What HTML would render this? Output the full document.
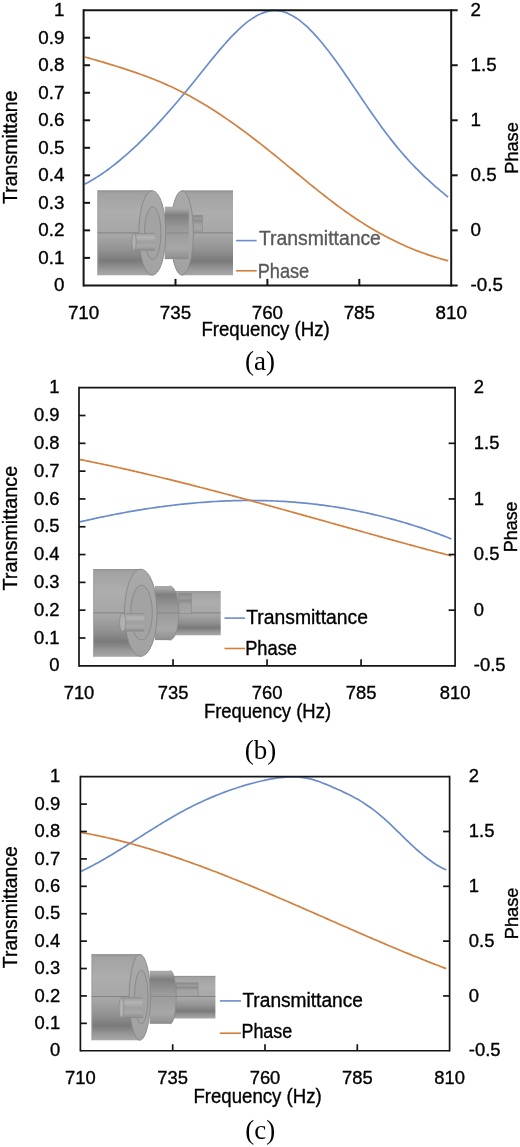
<!DOCTYPE html>
<html><head><meta charset="utf-8"><title>Transmittance and Phase vs Frequency</title>
<style>html,body{margin:0;padding:0;background:#fff;width:520px;height:1147px;overflow:hidden}svg{display:block}</style>
</head><body>
<svg width="520" height="1147" viewBox="0 0 520 1147">
<defs>
<linearGradient id="cyl" x1="0" y1="0" x2="0" y2="1">
 <stop offset="0" stop-color="#979797"/>
 <stop offset="0.04" stop-color="#a3a3a3"/>
 <stop offset="0.26" stop-color="#adadad"/>
 <stop offset="0.49" stop-color="#a7a7a7"/>
 <stop offset="0.53" stop-color="#a6a6a6"/>
 <stop offset="0.70" stop-color="#929292"/>
 <stop offset="0.83" stop-color="#7a7a7a"/>
 <stop offset="0.93" stop-color="#989898"/>
 <stop offset="1" stop-color="#a8a8a8"/>
</linearGradient>
<linearGradient id="neck" x1="0" y1="0" x2="0" y2="1">
 <stop offset="0" stop-color="#a9a9a9"/>
 <stop offset="0.05" stop-color="#a4a4a4"/>
 <stop offset="0.16" stop-color="#7f7f7f"/>
 <stop offset="0.40" stop-color="#999999"/>
 <stop offset="0.8" stop-color="#a7a7a7"/>
 <stop offset="0.95" stop-color="#959595"/>
 <stop offset="1" stop-color="#8a8a8a"/>
</linearGradient>
<linearGradient id="face" x1="0" y1="0" x2="0" y2="1">
 <stop offset="0" stop-color="#a9a9a9"/>
 <stop offset="0.5" stop-color="#a6a6a6"/>
 <stop offset="1" stop-color="#a2a2a2"/>
</linearGradient>
<linearGradient id="pin" x1="0" y1="0" x2="0" y2="1">
 <stop offset="0" stop-color="#9c9c9c"/>
 <stop offset="0.25" stop-color="#b3b3b3"/>
 <stop offset="0.5" stop-color="#a0a0a0"/>
 <stop offset="0.75" stop-color="#a8a8a8"/>
 <stop offset="1" stop-color="#8c8c8c"/>
</linearGradient>
<linearGradient id="pin2" x1="0" y1="0" x2="0" y2="1">
 <stop offset="0" stop-color="#888888"/>
 <stop offset="0.2" stop-color="#9c9c9c"/>
 <stop offset="0.35" stop-color="#8c8c8c"/>
 <stop offset="0.55" stop-color="#a2a2a2"/>
 <stop offset="1" stop-color="#a6a6a6"/>
</linearGradient>
</defs>
<rect x="97.50" y="190.50" width="54.80" height="84.80" fill="url(#cyl)"/>
<line x1="97.90" y1="190.50" x2="97.90" y2="275.30" stroke="#9a9a9a" stroke-width="0.80"/>
<line x1="97.50" y1="190.80" x2="152.30" y2="190.80" stroke="#8c8c8c" stroke-width="0.70"/>
<rect x="182.00" y="190.60" width="51.00" height="84.70" fill="url(#cyl)"/>
<line x1="182.00" y1="190.90" x2="233.00" y2="190.90" stroke="#8c8c8c" stroke-width="0.70"/>
<line x1="182.00" y1="232.90" x2="233.00" y2="232.90" stroke="#828282" stroke-width="1.00"/>
<line x1="97.50" y1="232.90" x2="152.30" y2="232.90" stroke="#828282" stroke-width="1.00"/>
<ellipse cx="182.00" cy="233.00" rx="11.40" ry="42.20" fill="url(#face)" stroke="#878787" stroke-width="0.90"/>
<rect x="193.70" y="215.30" width="8.60" height="15.70" fill="url(#pin2)" stroke="#8a8a8a" stroke-width="0.7"/>
<rect x="164.80" y="206.70" width="24.00" height="52.40" fill="url(#neck)"/>
<line x1="164.80" y1="232.90" x2="188.80" y2="232.90" stroke="#858585" stroke-width="0.80"/>
<ellipse cx="152.30" cy="233.00" rx="13.50" ry="42.30" fill="url(#face)" stroke="#878787" stroke-width="0.90"/>
<ellipse cx="152.70" cy="233.15" rx="8.20" ry="26.35" fill="#a3a3a3" stroke="#878787" stroke-width="0.90"/>
<rect x="134.00" y="233.10" width="20.80" height="17.30" fill="url(#pin)"/>
<line x1="134.00" y1="233.40" x2="154.80" y2="233.40" stroke="#8a8a8a" stroke-width="0.70"/>
<line x1="134.00" y1="250.10" x2="154.80" y2="250.10" stroke="#8a8a8a" stroke-width="0.70"/>
<ellipse cx="134.00" cy="241.75" rx="2.20" ry="8.65" fill="#b0b0b0" stroke="#858585" stroke-width="0.70"/>
<path d="M84.50,184.19 C85.00,183.93 86.50,183.16 87.50,182.63 C88.50,182.09 89.50,181.53 90.50,180.96 C91.50,180.40 92.50,179.81 93.50,179.22 C94.50,178.62 95.50,178.01 96.50,177.38 C97.50,176.75 98.50,176.11 99.50,175.46 C100.50,174.80 101.50,174.13 102.50,173.45 C103.50,172.77 104.50,172.07 105.50,171.37 C106.50,170.66 107.50,169.93 108.50,169.20 C109.50,168.46 110.50,167.72 111.50,166.95 C112.50,166.19 113.50,165.42 114.50,164.63 C115.50,163.85 116.50,163.05 117.50,162.24 C118.50,161.43 119.50,160.60 120.50,159.77 C121.50,158.93 122.50,158.09 123.50,157.23 C124.50,156.37 125.50,155.50 126.50,154.62 C127.50,153.74 128.50,152.85 129.50,151.95 C130.50,151.04 131.50,150.13 132.50,149.21 C133.50,148.28 134.50,147.35 135.50,146.40 C136.50,145.46 137.50,144.50 138.50,143.54 C139.50,142.57 140.50,141.60 141.50,140.61 C142.50,139.63 143.50,138.63 144.50,137.63 C145.50,136.62 146.50,135.61 147.50,134.59 C148.50,133.56 149.50,132.53 150.50,131.49 C151.50,130.45 152.50,129.40 153.50,128.34 C154.50,127.29 155.50,126.22 156.50,125.15 C157.50,124.07 158.50,122.99 159.50,121.90 C160.50,120.81 161.50,119.71 162.50,118.60 C163.50,117.50 164.50,116.38 165.50,115.26 C166.50,114.14 167.50,113.01 168.50,111.88 C169.50,110.74 170.50,109.60 171.50,108.45 C172.50,107.30 173.50,106.15 174.50,104.99 C175.50,103.83 176.50,102.66 177.50,101.48 C178.50,100.31 179.50,99.13 180.50,97.94 C181.50,96.76 182.50,95.56 183.50,94.37 C184.50,93.17 185.50,91.97 186.50,90.76 C187.50,89.55 188.50,88.34 189.50,87.12 C190.50,85.90 191.50,84.68 192.50,83.45 C193.50,82.23 194.50,80.99 195.50,79.76 C196.50,78.52 197.50,77.28 198.50,76.04 C199.50,74.79 200.50,73.54 201.50,72.30 C202.50,71.05 203.50,69.80 204.50,68.55 C205.50,67.30 206.50,66.05 207.50,64.81 C208.50,63.56 209.50,62.32 210.50,61.09 C211.50,59.85 212.50,58.62 213.50,57.40 C214.50,56.18 215.50,54.96 216.50,53.75 C217.50,52.55 218.50,51.35 219.50,50.17 C220.50,48.99 221.50,47.81 222.50,46.65 C223.50,45.50 224.50,44.35 225.50,43.23 C226.50,42.10 227.50,40.99 228.50,39.90 C229.50,38.80 230.50,37.73 231.50,36.67 C232.50,35.62 233.50,34.59 234.50,33.58 C235.50,32.57 236.50,31.58 237.50,30.62 C238.50,29.66 239.50,28.72 240.50,27.81 C241.50,26.90 242.50,26.02 243.50,25.17 C244.50,24.31 245.50,23.49 246.50,22.70 C247.50,21.90 248.50,21.14 249.50,20.42 C250.50,19.69 251.50,19.00 252.50,18.34 C253.50,17.68 254.50,17.06 255.50,16.48 C256.50,15.90 257.50,15.35 258.50,14.84 C259.50,14.34 260.50,13.87 261.50,13.45 C262.50,13.03 263.50,12.65 264.50,12.32 C265.50,11.98 266.50,11.69 267.50,11.45 C268.50,11.21 269.50,11.01 270.50,10.86 C271.50,10.72 272.50,10.62 273.50,10.57 C274.50,10.52 275.50,10.53 276.50,10.58 C277.50,10.64 278.50,10.75 279.50,10.91 C280.50,11.07 281.50,11.29 282.50,11.55 C283.50,11.81 284.50,12.12 285.50,12.48 C286.50,12.84 287.50,13.24 288.50,13.69 C289.50,14.14 290.50,14.64 291.50,15.17 C292.50,15.71 293.50,16.30 294.50,16.92 C295.50,17.54 296.50,18.20 297.50,18.91 C298.50,19.61 299.50,20.35 300.50,21.13 C301.50,21.91 302.50,22.73 303.50,23.58 C304.50,24.43 305.50,25.32 306.50,26.24 C307.50,27.16 308.50,28.12 309.50,29.10 C310.50,30.08 311.50,31.10 312.50,32.15 C313.50,33.19 314.50,34.27 315.50,35.37 C316.50,36.47 317.50,37.60 318.50,38.76 C319.50,39.91 320.50,41.09 321.50,42.30 C322.50,43.50 323.50,44.73 324.50,45.98 C325.50,47.23 326.50,48.50 327.50,49.79 C328.50,51.07 329.50,52.38 330.50,53.71 C331.50,55.04 332.50,56.38 333.50,57.74 C334.50,59.10 335.50,60.47 336.50,61.86 C337.50,63.25 338.50,64.65 339.50,66.07 C340.50,67.48 341.50,68.91 342.50,70.34 C343.50,71.77 344.50,73.22 345.50,74.67 C346.50,76.12 347.50,77.58 348.50,79.05 C349.50,80.51 350.50,81.98 351.50,83.45 C352.50,84.93 353.50,86.41 354.50,87.89 C355.50,89.36 356.50,90.85 357.50,92.33 C358.50,93.81 359.50,95.29 360.50,96.77 C361.50,98.25 362.50,99.73 363.50,101.20 C364.50,102.68 365.50,104.15 366.50,105.61 C367.50,107.08 368.50,108.54 369.50,109.99 C370.50,111.44 371.50,112.89 372.50,114.33 C373.50,115.76 374.50,117.19 375.50,118.60 C376.50,120.02 377.50,121.43 378.50,122.82 C379.50,124.21 380.50,125.59 381.50,126.96 C382.50,128.32 383.50,129.67 384.50,131.01 C385.50,132.34 386.50,133.67 387.50,134.97 C388.50,136.28 389.50,137.58 390.50,138.85 C391.50,140.13 392.50,141.40 393.50,142.65 C394.50,143.89 395.50,145.13 396.50,146.35 C397.50,147.57 398.50,148.77 399.50,149.96 C400.50,151.15 401.50,152.32 402.50,153.48 C403.50,154.64 404.50,155.78 405.50,156.91 C406.50,158.03 407.50,159.14 408.50,160.24 C409.50,161.34 410.50,162.42 411.50,163.48 C412.50,164.55 413.50,165.60 414.50,166.64 C415.50,167.68 416.50,168.70 417.50,169.71 C418.50,170.73 419.50,171.72 420.50,172.71 C421.50,173.69 422.50,174.66 423.50,175.62 C424.50,176.59 425.50,177.53 426.50,178.47 C427.50,179.40 428.50,180.33 429.50,181.24 C430.50,182.16 431.50,183.06 432.50,183.95 C433.50,184.84 434.50,185.72 435.50,186.59 C436.50,187.46 437.50,188.32 438.50,189.18 C439.50,190.03 440.50,190.87 441.50,191.70 C442.50,192.54 443.50,193.36 444.50,194.18 C445.50,194.99 446.90,196.12 447.50,196.60 C448.10,197.08 448.00,197.00 448.10,197.08" fill="none" stroke="#6b8ccb" stroke-width="1.7" stroke-linejoin="round"/>
<path d="M84.90,56.99 C85.40,57.14 86.90,57.56 87.90,57.85 C88.90,58.13 89.90,58.42 90.90,58.71 C91.90,58.99 92.90,59.28 93.90,59.57 C94.90,59.86 95.90,60.14 96.90,60.43 C97.90,60.72 98.90,61.01 99.90,61.30 C100.90,61.60 101.90,61.89 102.90,62.18 C103.90,62.48 104.90,62.77 105.90,63.07 C106.90,63.36 107.90,63.66 108.90,63.96 C109.90,64.26 110.90,64.56 111.90,64.87 C112.90,65.17 113.90,65.48 114.90,65.79 C115.90,66.09 116.90,66.40 117.90,66.72 C118.90,67.03 119.90,67.34 120.90,67.66 C121.90,67.98 122.90,68.30 123.90,68.62 C124.90,68.94 125.90,69.27 126.90,69.60 C127.90,69.92 128.90,70.26 129.90,70.59 C130.90,70.92 131.90,71.26 132.90,71.60 C133.90,71.94 134.90,72.29 135.90,72.64 C136.90,72.98 137.90,73.34 138.90,73.69 C139.90,74.05 140.90,74.41 141.90,74.77 C142.90,75.13 143.90,75.50 144.90,75.87 C145.90,76.24 146.90,76.62 147.90,77.00 C148.90,77.38 149.90,77.76 150.90,78.15 C151.90,78.54 152.90,78.94 153.90,79.33 C154.90,79.73 155.90,80.14 156.90,80.54 C157.90,80.95 158.90,81.37 159.90,81.78 C160.90,82.20 161.90,82.63 162.90,83.06 C163.90,83.49 164.90,83.92 165.90,84.36 C166.90,84.80 167.90,85.25 168.90,85.70 C169.90,86.15 170.90,86.61 171.90,87.07 C172.90,87.54 173.90,88.00 174.90,88.48 C175.90,88.96 176.90,89.44 177.90,89.93 C178.90,90.42 179.90,90.91 180.90,91.41 C181.90,91.92 182.90,92.42 183.90,92.94 C184.90,93.45 185.90,93.98 186.90,94.51 C187.90,95.04 188.90,95.57 189.90,96.11 C190.90,96.66 191.90,97.21 192.90,97.76 C193.90,98.32 194.90,98.88 195.90,99.45 C196.90,100.02 197.90,100.60 198.90,101.18 C199.90,101.76 200.90,102.35 201.90,102.95 C202.90,103.54 203.90,104.14 204.90,104.75 C205.90,105.36 206.90,105.97 207.90,106.59 C208.90,107.21 209.90,107.83 210.90,108.46 C211.90,109.09 212.90,109.73 213.90,110.37 C214.90,111.02 215.90,111.66 216.90,112.32 C217.90,112.97 218.90,113.63 219.90,114.29 C220.90,114.96 221.90,115.63 222.90,116.30 C223.90,116.98 224.90,117.66 225.90,118.34 C226.90,119.03 227.90,119.72 228.90,120.41 C229.90,121.11 230.90,121.81 231.90,122.51 C232.90,123.22 233.90,123.93 234.90,124.64 C235.90,125.35 236.90,126.07 237.90,126.80 C238.90,127.52 239.90,128.25 240.90,128.98 C241.90,129.71 242.90,130.45 243.90,131.19 C244.90,131.93 245.90,132.68 246.90,133.42 C247.90,134.17 248.90,134.93 249.90,135.68 C250.90,136.44 251.90,137.20 252.90,137.97 C253.90,138.73 254.90,139.50 255.90,140.27 C256.90,141.04 257.90,141.82 258.90,142.60 C259.90,143.38 260.90,144.16 261.90,144.95 C262.90,145.73 263.90,146.52 264.90,147.31 C265.90,148.11 266.90,148.90 267.90,149.70 C268.90,150.50 269.90,151.30 270.90,152.11 C271.90,152.91 272.90,153.72 273.90,154.53 C274.90,155.34 275.90,156.15 276.90,156.96 C277.90,157.78 278.90,158.59 279.90,159.41 C280.90,160.23 281.90,161.05 282.90,161.87 C283.90,162.69 284.90,163.51 285.90,164.33 C286.90,165.15 287.90,165.98 288.90,166.80 C289.90,167.62 290.90,168.45 291.90,169.27 C292.90,170.10 293.90,170.92 294.90,171.75 C295.90,172.57 296.90,173.39 297.90,174.22 C298.90,175.04 299.90,175.86 300.90,176.68 C301.90,177.51 302.90,178.33 303.90,179.15 C304.90,179.97 305.90,180.78 306.90,181.60 C307.90,182.42 308.90,183.23 309.90,184.04 C310.90,184.85 311.90,185.67 312.90,186.47 C313.90,187.28 314.90,188.09 315.90,188.89 C316.90,189.69 317.90,190.49 318.90,191.29 C319.90,192.09 320.90,192.88 321.90,193.67 C322.90,194.46 323.90,195.25 324.90,196.03 C325.90,196.81 326.90,197.59 327.90,198.36 C328.90,199.14 329.90,199.91 330.90,200.67 C331.90,201.44 332.90,202.20 333.90,202.96 C334.90,203.71 335.90,204.46 336.90,205.21 C337.90,205.95 338.90,206.69 339.90,207.43 C340.90,208.16 341.90,208.89 342.90,209.62 C343.90,210.34 344.90,211.05 345.90,211.76 C346.90,212.47 347.90,213.18 348.90,213.87 C349.90,214.57 350.90,215.26 351.90,215.94 C352.90,216.63 353.90,217.30 354.90,217.97 C355.90,218.64 356.90,219.30 357.90,219.96 C358.90,220.61 359.90,221.26 360.90,221.90 C361.90,222.55 362.90,223.18 363.90,223.81 C364.90,224.44 365.90,225.06 366.90,225.67 C367.90,226.28 368.90,226.89 369.90,227.49 C370.90,228.09 371.90,228.68 372.90,229.27 C373.90,229.86 374.90,230.44 375.90,231.01 C376.90,231.58 377.90,232.15 378.90,232.71 C379.90,233.27 380.90,233.82 381.90,234.36 C382.90,234.91 383.90,235.45 384.90,235.98 C385.90,236.51 386.90,237.04 387.90,237.56 C388.90,238.08 389.90,238.59 390.90,239.09 C391.90,239.60 392.90,240.09 393.90,240.59 C394.90,241.08 395.90,241.56 396.90,242.04 C397.90,242.52 398.90,242.99 399.90,243.45 C400.90,243.92 401.90,244.38 402.90,244.83 C403.90,245.28 404.90,245.72 405.90,246.16 C406.90,246.60 407.90,247.03 408.90,247.45 C409.90,247.88 410.90,248.30 411.90,248.71 C412.90,249.12 413.90,249.52 414.90,249.92 C415.90,250.32 416.90,250.71 417.90,251.09 C418.90,251.48 419.90,251.86 420.90,252.23 C421.90,252.60 422.90,252.96 423.90,253.32 C424.90,253.68 425.90,254.03 426.90,254.38 C427.90,254.72 428.90,255.06 429.90,255.39 C430.90,255.72 431.90,256.05 432.90,256.37 C433.90,256.69 434.90,257.00 435.90,257.30 C436.90,257.61 437.90,257.91 438.90,258.20 C439.90,258.49 440.90,258.78 441.90,259.06 C442.90,259.34 443.90,259.61 444.90,259.88 C445.90,260.15 447.38,260.53 447.90,260.66 C448.42,260.79 447.98,260.68 448.00,260.69" fill="none" stroke="#d2803f" stroke-width="1.7" stroke-linejoin="round"/>
<line x1="83.60" y1="10.20" x2="457.70" y2="10.20" stroke="#141414" stroke-width="2.00"/>
<line x1="83.60" y1="285.40" x2="457.70" y2="285.40" stroke="#141414" stroke-width="2.00"/>
<line x1="83.60" y1="9.20" x2="83.60" y2="286.40" stroke="#141414" stroke-width="2.00"/>
<line x1="451.20" y1="9.20" x2="451.20" y2="286.40" stroke="#141414" stroke-width="2.00"/>
<line x1="83.60" y1="257.88" x2="90.10" y2="257.88" stroke="#141414" stroke-width="2.00"/>
<line x1="83.60" y1="230.36" x2="90.10" y2="230.36" stroke="#141414" stroke-width="2.00"/>
<line x1="83.60" y1="202.84" x2="90.10" y2="202.84" stroke="#141414" stroke-width="2.00"/>
<line x1="83.60" y1="175.32" x2="90.10" y2="175.32" stroke="#141414" stroke-width="2.00"/>
<line x1="83.60" y1="147.80" x2="90.10" y2="147.80" stroke="#141414" stroke-width="2.00"/>
<line x1="83.60" y1="120.28" x2="90.10" y2="120.28" stroke="#141414" stroke-width="2.00"/>
<line x1="83.60" y1="92.76" x2="90.10" y2="92.76" stroke="#141414" stroke-width="2.00"/>
<line x1="83.60" y1="65.24" x2="90.10" y2="65.24" stroke="#141414" stroke-width="2.00"/>
<line x1="83.60" y1="37.72" x2="90.10" y2="37.72" stroke="#141414" stroke-width="2.00"/>
<line x1="451.20" y1="230.36" x2="457.70" y2="230.36" stroke="#141414" stroke-width="2.00"/>
<line x1="451.20" y1="175.32" x2="457.70" y2="175.32" stroke="#141414" stroke-width="2.00"/>
<line x1="451.20" y1="120.28" x2="457.70" y2="120.28" stroke="#141414" stroke-width="2.00"/>
<line x1="451.20" y1="65.24" x2="457.70" y2="65.24" stroke="#141414" stroke-width="2.00"/>
<line x1="175.50" y1="278.90" x2="175.50" y2="285.40" stroke="#141414" stroke-width="2.00"/>
<line x1="267.40" y1="278.90" x2="267.40" y2="285.40" stroke="#141414" stroke-width="2.00"/>
<line x1="359.30" y1="278.90" x2="359.30" y2="285.40" stroke="#141414" stroke-width="2.00"/>
<text x="64.40" y="291.30" font-size="18.80" text-anchor="end" fill="#000" font-family="'Liberation Sans', Arial, sans-serif" stroke="#000" stroke-width="0.35">0</text>
<text x="64.40" y="263.78" font-size="18.80" text-anchor="end" fill="#000" font-family="'Liberation Sans', Arial, sans-serif" stroke="#000" stroke-width="0.35">0.1</text>
<text x="64.40" y="236.26" font-size="18.80" text-anchor="end" fill="#000" font-family="'Liberation Sans', Arial, sans-serif" stroke="#000" stroke-width="0.35">0.2</text>
<text x="64.40" y="208.74" font-size="18.80" text-anchor="end" fill="#000" font-family="'Liberation Sans', Arial, sans-serif" stroke="#000" stroke-width="0.35">0.3</text>
<text x="64.40" y="181.22" font-size="18.80" text-anchor="end" fill="#000" font-family="'Liberation Sans', Arial, sans-serif" stroke="#000" stroke-width="0.35">0.4</text>
<text x="64.40" y="153.70" font-size="18.80" text-anchor="end" fill="#000" font-family="'Liberation Sans', Arial, sans-serif" stroke="#000" stroke-width="0.35">0.5</text>
<text x="64.40" y="126.18" font-size="18.80" text-anchor="end" fill="#000" font-family="'Liberation Sans', Arial, sans-serif" stroke="#000" stroke-width="0.35">0.6</text>
<text x="64.40" y="98.66" font-size="18.80" text-anchor="end" fill="#000" font-family="'Liberation Sans', Arial, sans-serif" stroke="#000" stroke-width="0.35">0.7</text>
<text x="64.40" y="71.14" font-size="18.80" text-anchor="end" fill="#000" font-family="'Liberation Sans', Arial, sans-serif" stroke="#000" stroke-width="0.35">0.8</text>
<text x="64.40" y="43.62" font-size="18.80" text-anchor="end" fill="#000" font-family="'Liberation Sans', Arial, sans-serif" stroke="#000" stroke-width="0.35">0.9</text>
<text x="64.40" y="16.10" font-size="18.80" text-anchor="end" fill="#000" font-family="'Liberation Sans', Arial, sans-serif" stroke="#000" stroke-width="0.35">1</text>
<text x="470.50" y="291.30" font-size="18.80" fill="#000" font-family="'Liberation Sans', Arial, sans-serif" stroke="#000" stroke-width="0.35">-0.5</text>
<text x="470.50" y="236.26" font-size="18.80" fill="#000" font-family="'Liberation Sans', Arial, sans-serif" stroke="#000" stroke-width="0.35">0</text>
<text x="470.50" y="181.22" font-size="18.80" fill="#000" font-family="'Liberation Sans', Arial, sans-serif" stroke="#000" stroke-width="0.35">0.5</text>
<text x="470.50" y="126.18" font-size="18.80" fill="#000" font-family="'Liberation Sans', Arial, sans-serif" stroke="#000" stroke-width="0.35">1</text>
<text x="470.50" y="71.14" font-size="18.80" fill="#000" font-family="'Liberation Sans', Arial, sans-serif" stroke="#000" stroke-width="0.35">1.5</text>
<text x="470.50" y="16.10" font-size="18.80" fill="#000" font-family="'Liberation Sans', Arial, sans-serif" stroke="#000" stroke-width="0.35">2</text>
<text x="83.60" y="318.60" font-size="18.80" text-anchor="middle" fill="#000" font-family="'Liberation Sans', Arial, sans-serif" stroke="#000" stroke-width="0.35">710</text>
<text x="175.50" y="318.60" font-size="18.80" text-anchor="middle" fill="#000" font-family="'Liberation Sans', Arial, sans-serif" stroke="#000" stroke-width="0.35">735</text>
<text x="267.40" y="318.60" font-size="18.80" text-anchor="middle" fill="#000" font-family="'Liberation Sans', Arial, sans-serif" stroke="#000" stroke-width="0.35">760</text>
<text x="359.30" y="318.60" font-size="18.80" text-anchor="middle" fill="#000" font-family="'Liberation Sans', Arial, sans-serif" stroke="#000" stroke-width="0.35">785</text>
<text x="451.20" y="318.60" font-size="18.80" text-anchor="middle" fill="#000" font-family="'Liberation Sans', Arial, sans-serif" stroke="#000" stroke-width="0.35">810</text>
<text x="201.48" y="336.30" font-size="19.30" textLength="128.2" lengthAdjust="spacingAndGlyphs" fill="#000" font-family="'Liberation Sans', Arial, sans-serif" id="t_a_freq" stroke="#000" stroke-width="0.35">Frequency (Hz)</text>
<text id="t_a_tr" stroke="#000" stroke-width="0.35" transform="translate(17.13,147.32) rotate(-90)" x="0" y="0" text-anchor="middle" font-size="19.30" textLength="113.4" lengthAdjust="spacingAndGlyphs" fill="#000" font-family="'Liberation Sans', Arial, sans-serif">Transmittane</text>
<text id="t_a_ph" stroke="#000" stroke-width="0.35" transform="translate(517.86,147.97) rotate(-90)" x="0" y="0" text-anchor="middle" font-size="18.60" textLength="51.5" lengthAdjust="spacingAndGlyphs" fill="#000" font-family="'Liberation Sans', Arial, sans-serif">Phase</text>
<line x1="236.10" y1="240.60" x2="256.70" y2="240.60" stroke="#6b8ccb" stroke-width="1.60"/>
<line x1="236.10" y1="270.80" x2="256.70" y2="270.80" stroke="#d2803f" stroke-width="1.60"/>
<text x="258.92" y="245.40" font-size="19.30" textLength="122.0" lengthAdjust="spacingAndGlyphs" fill="#595959" font-family="'Liberation Sans', Arial, sans-serif" id="t_a_lt" stroke="#595959" stroke-width="0.35">Transmittance</text>
<text x="257.73" y="277.70" font-size="19.30" textLength="51.5" lengthAdjust="spacingAndGlyphs" fill="#595959" font-family="'Liberation Sans', Arial, sans-serif" id="t_a_lp" stroke="#595959" stroke-width="0.35">Phase</text>
<text x="259.90" y="370.30" font-size="27.00" text-anchor="middle" fill="#000" font-family="'Liberation Serif', 'Times New Roman', serif" id="t_a_cap">(a)</text>
<rect x="93.30" y="569.20" width="47.45" height="87.60" fill="url(#cyl)"/>
<line x1="93.70" y1="569.20" x2="93.70" y2="656.80" stroke="#9a9a9a" stroke-width="0.80"/>
<line x1="93.30" y1="569.50" x2="140.75" y2="569.50" stroke="#8c8c8c" stroke-width="0.70"/>
<rect x="172.00" y="591.30" width="48.70" height="44.00" fill="url(#cyl)"/>
<line x1="172.00" y1="591.60" x2="220.70" y2="591.60" stroke="#8c8c8c" stroke-width="0.70"/>
<line x1="172.00" y1="612.90" x2="220.70" y2="612.90" stroke="#828282" stroke-width="1.00"/>
<line x1="93.30" y1="612.90" x2="140.75" y2="612.90" stroke="#828282" stroke-width="1.00"/>
<rect x="178.80" y="593.50" width="12.50" height="20.20" fill="url(#pin2)" stroke="#8a8a8a" stroke-width="0.7"/>
<ellipse cx="170.00" cy="613.05" rx="8.80" ry="27.05" fill="url(#neck)" stroke="#878787" stroke-width="0.70"/>
<rect x="154.80" y="586.00" width="15.20" height="54.10" fill="url(#neck)"/>
<line x1="154.80" y1="612.90" x2="178.80" y2="612.90" stroke="#858585" stroke-width="0.80"/>
<ellipse cx="140.75" cy="612.80" rx="16.30" ry="43.60" fill="url(#face)" stroke="#878787" stroke-width="0.90"/>
<ellipse cx="141.50" cy="612.60" rx="10.80" ry="27.40" fill="#a3a3a3" stroke="#878787" stroke-width="0.90"/>
<rect x="122.70" y="613.30" width="21.40" height="18.00" fill="url(#pin)"/>
<line x1="122.70" y1="613.60" x2="144.10" y2="613.60" stroke="#8a8a8a" stroke-width="0.70"/>
<line x1="122.70" y1="631.00" x2="144.10" y2="631.00" stroke="#8a8a8a" stroke-width="0.70"/>
<ellipse cx="122.70" cy="622.30" rx="3.10" ry="9.00" fill="#b0b0b0" stroke="#858585" stroke-width="0.70"/>
<path d="M80.00,521.86 C80.50,521.74 82.00,521.39 83.00,521.16 C84.00,520.93 85.00,520.71 86.00,520.48 C87.00,520.25 88.00,520.03 89.00,519.80 C90.00,519.58 91.00,519.36 92.00,519.14 C93.00,518.92 94.00,518.70 95.00,518.48 C96.00,518.27 97.00,518.05 98.00,517.84 C99.00,517.63 100.00,517.41 101.00,517.20 C102.00,516.99 103.00,516.78 104.00,516.58 C105.00,516.37 106.00,516.17 107.00,515.96 C108.00,515.76 109.00,515.56 110.00,515.36 C111.00,515.16 112.00,514.96 113.00,514.76 C114.00,514.57 115.00,514.37 116.00,514.18 C117.00,513.99 118.00,513.80 119.00,513.61 C120.00,513.42 121.00,513.23 122.00,513.04 C123.00,512.86 124.00,512.67 125.00,512.49 C126.00,512.31 127.00,512.13 128.00,511.95 C129.00,511.77 130.00,511.60 131.00,511.42 C132.00,511.25 133.00,511.07 134.00,510.90 C135.00,510.73 136.00,510.56 137.00,510.39 C138.00,510.23 139.00,510.06 140.00,509.90 C141.00,509.74 142.00,509.57 143.00,509.41 C144.00,509.25 145.00,509.10 146.00,508.94 C147.00,508.79 148.00,508.63 149.00,508.48 C150.00,508.33 151.00,508.18 152.00,508.03 C153.00,507.88 154.00,507.74 155.00,507.59 C156.00,507.45 157.00,507.31 158.00,507.17 C159.00,507.03 160.00,506.89 161.00,506.75 C162.00,506.62 163.00,506.48 164.00,506.35 C165.00,506.22 166.00,506.09 167.00,505.96 C168.00,505.83 169.00,505.71 170.00,505.58 C171.00,505.46 172.00,505.34 173.00,505.22 C174.00,505.10 175.00,504.98 176.00,504.87 C177.00,504.75 178.00,504.64 179.00,504.53 C180.00,504.42 181.00,504.31 182.00,504.20 C183.00,504.10 184.00,503.99 185.00,503.89 C186.00,503.79 187.00,503.69 188.00,503.59 C189.00,503.49 190.00,503.39 191.00,503.30 C192.00,503.21 193.00,503.12 194.00,503.03 C195.00,502.94 196.00,502.85 197.00,502.77 C198.00,502.68 199.00,502.60 200.00,502.52 C201.00,502.44 202.00,502.36 203.00,502.28 C204.00,502.21 205.00,502.14 206.00,502.06 C207.00,501.99 208.00,501.92 209.00,501.86 C210.00,501.79 211.00,501.73 212.00,501.67 C213.00,501.60 214.00,501.54 215.00,501.49 C216.00,501.43 217.00,501.37 218.00,501.32 C219.00,501.27 220.00,501.22 221.00,501.17 C222.00,501.12 223.00,501.08 224.00,501.03 C225.00,500.99 226.00,500.95 227.00,500.91 C228.00,500.87 229.00,500.84 230.00,500.81 C231.00,500.77 232.00,500.74 233.00,500.71 C234.00,500.68 235.00,500.66 236.00,500.63 C237.00,500.61 238.00,500.59 239.00,500.57 C240.00,500.55 241.00,500.54 242.00,500.52 C243.00,500.51 244.00,500.50 245.00,500.49 C246.00,500.48 247.00,500.47 248.00,500.47 C249.00,500.47 250.00,500.46 251.00,500.47 C252.00,500.47 253.00,500.47 254.00,500.48 C255.00,500.48 256.00,500.49 257.00,500.51 C258.00,500.52 259.00,500.53 260.00,500.55 C261.00,500.56 262.00,500.58 263.00,500.61 C264.00,500.63 265.00,500.65 266.00,500.68 C267.00,500.71 268.00,500.74 269.00,500.77 C270.00,500.80 271.00,500.84 272.00,500.88 C273.00,500.91 274.00,500.95 275.00,501.00 C276.00,501.04 277.00,501.09 278.00,501.14 C279.00,501.18 280.00,501.24 281.00,501.29 C282.00,501.34 283.00,501.40 284.00,501.46 C285.00,501.52 286.00,501.58 287.00,501.65 C288.00,501.71 289.00,501.78 290.00,501.85 C291.00,501.92 292.00,501.99 293.00,502.07 C294.00,502.15 295.00,502.23 296.00,502.31 C297.00,502.39 298.00,502.47 299.00,502.56 C300.00,502.65 301.00,502.74 302.00,502.83 C303.00,502.92 304.00,503.02 305.00,503.12 C306.00,503.22 307.00,503.32 308.00,503.42 C309.00,503.53 310.00,503.64 311.00,503.75 C312.00,503.86 313.00,503.97 314.00,504.09 C315.00,504.20 316.00,504.32 317.00,504.44 C318.00,504.56 319.00,504.69 320.00,504.82 C321.00,504.94 322.00,505.07 323.00,505.21 C324.00,505.34 325.00,505.48 326.00,505.61 C327.00,505.75 328.00,505.90 329.00,506.04 C330.00,506.19 331.00,506.33 332.00,506.48 C333.00,506.63 334.00,506.79 335.00,506.95 C336.00,507.10 337.00,507.26 338.00,507.42 C339.00,507.59 340.00,507.75 341.00,507.92 C342.00,508.09 343.00,508.26 344.00,508.43 C345.00,508.61 346.00,508.79 347.00,508.97 C348.00,509.15 349.00,509.33 350.00,509.52 C351.00,509.70 352.00,509.89 353.00,510.08 C354.00,510.27 355.00,510.47 356.00,510.67 C357.00,510.87 358.00,511.07 359.00,511.27 C360.00,511.48 361.00,511.68 362.00,511.89 C363.00,512.10 364.00,512.32 365.00,512.53 C366.00,512.75 367.00,512.97 368.00,513.19 C369.00,513.41 370.00,513.64 371.00,513.86 C372.00,514.09 373.00,514.32 374.00,514.56 C375.00,514.79 376.00,515.03 377.00,515.27 C378.00,515.51 379.00,515.75 380.00,516.00 C381.00,516.25 382.00,516.50 383.00,516.75 C384.00,517.00 385.00,517.26 386.00,517.52 C387.00,517.77 388.00,518.04 389.00,518.30 C390.00,518.57 391.00,518.83 392.00,519.11 C393.00,519.38 394.00,519.65 395.00,519.93 C396.00,520.20 397.00,520.49 398.00,520.77 C399.00,521.05 400.00,521.34 401.00,521.63 C402.00,521.92 403.00,522.21 404.00,522.51 C405.00,522.80 406.00,523.10 407.00,523.40 C408.00,523.71 409.00,524.01 410.00,524.32 C411.00,524.63 412.00,524.94 413.00,525.25 C414.00,525.57 415.00,525.89 416.00,526.21 C417.00,526.53 418.00,526.85 419.00,527.18 C420.00,527.51 421.00,527.84 422.00,528.17 C423.00,528.51 424.00,528.84 425.00,529.18 C426.00,529.52 427.00,529.87 428.00,530.21 C429.00,530.56 430.00,530.91 431.00,531.26 C432.00,531.61 433.00,531.97 434.00,532.33 C435.00,532.69 436.00,533.05 437.00,533.42 C438.00,533.78 439.00,534.15 440.00,534.52 C441.00,534.90 442.00,535.27 443.00,535.65 C444.00,536.03 445.00,536.41 446.00,536.79 C447.00,537.18 448.12,537.62 449.00,537.96 C449.88,538.30 450.88,538.70 451.25,538.85" fill="none" stroke="#6b8ccb" stroke-width="1.7" stroke-linejoin="round"/>
<path d="M80.00,459.56 C80.50,459.66 82.00,459.96 83.00,460.16 C84.00,460.36 85.00,460.56 86.00,460.76 C87.00,460.96 88.00,461.17 89.00,461.37 C90.00,461.57 91.00,461.78 92.00,461.98 C93.00,462.19 94.00,462.39 95.00,462.60 C96.00,462.81 97.00,463.01 98.00,463.22 C99.00,463.43 100.00,463.64 101.00,463.85 C102.00,464.06 103.00,464.28 104.00,464.49 C105.00,464.70 106.00,464.91 107.00,465.13 C108.00,465.34 109.00,465.56 110.00,465.77 C111.00,465.99 112.00,466.21 113.00,466.42 C114.00,466.64 115.00,466.86 116.00,467.08 C117.00,467.30 118.00,467.52 119.00,467.74 C120.00,467.96 121.00,468.18 122.00,468.41 C123.00,468.63 124.00,468.85 125.00,469.08 C126.00,469.30 127.00,469.53 128.00,469.75 C129.00,469.98 130.00,470.20 131.00,470.43 C132.00,470.66 133.00,470.89 134.00,471.12 C135.00,471.35 136.00,471.58 137.00,471.81 C138.00,472.04 139.00,472.27 140.00,472.50 C141.00,472.73 142.00,472.97 143.00,473.20 C144.00,473.43 145.00,473.67 146.00,473.90 C147.00,474.14 148.00,474.37 149.00,474.61 C150.00,474.85 151.00,475.08 152.00,475.32 C153.00,475.56 154.00,475.80 155.00,476.04 C156.00,476.28 157.00,476.52 158.00,476.76 C159.00,477.00 160.00,477.24 161.00,477.48 C162.00,477.72 163.00,477.96 164.00,478.21 C165.00,478.45 166.00,478.70 167.00,478.94 C168.00,479.18 169.00,479.43 170.00,479.68 C171.00,479.92 172.00,480.17 173.00,480.42 C174.00,480.66 175.00,480.91 176.00,481.16 C177.00,481.41 178.00,481.66 179.00,481.91 C180.00,482.15 181.00,482.41 182.00,482.66 C183.00,482.91 184.00,483.16 185.00,483.41 C186.00,483.66 187.00,483.91 188.00,484.17 C189.00,484.42 190.00,484.67 191.00,484.93 C192.00,485.18 193.00,485.44 194.00,485.69 C195.00,485.95 196.00,486.20 197.00,486.46 C198.00,486.72 199.00,486.97 200.00,487.23 C201.00,487.49 202.00,487.75 203.00,488.00 C204.00,488.26 205.00,488.52 206.00,488.78 C207.00,489.04 208.00,489.30 209.00,489.56 C210.00,489.82 211.00,490.08 212.00,490.34 C213.00,490.60 214.00,490.87 215.00,491.13 C216.00,491.39 217.00,491.65 218.00,491.92 C219.00,492.18 220.00,492.44 221.00,492.71 C222.00,492.97 223.00,493.24 224.00,493.50 C225.00,493.76 226.00,494.03 227.00,494.30 C228.00,494.56 229.00,494.83 230.00,495.09 C231.00,495.36 232.00,495.63 233.00,495.90 C234.00,496.16 235.00,496.43 236.00,496.70 C237.00,496.97 238.00,497.23 239.00,497.50 C240.00,497.77 241.00,498.04 242.00,498.31 C243.00,498.58 244.00,498.85 245.00,499.12 C246.00,499.39 247.00,499.66 248.00,499.93 C249.00,500.20 250.00,500.47 251.00,500.75 C252.00,501.02 253.00,501.29 254.00,501.56 C255.00,501.83 256.00,502.11 257.00,502.38 C258.00,502.65 259.00,502.93 260.00,503.20 C261.00,503.47 262.00,503.75 263.00,504.02 C264.00,504.29 265.00,504.57 266.00,504.84 C267.00,505.12 268.00,505.39 269.00,505.67 C270.00,505.94 271.00,506.22 272.00,506.49 C273.00,506.77 274.00,507.04 275.00,507.32 C276.00,507.60 277.00,507.87 278.00,508.15 C279.00,508.42 280.00,508.70 281.00,508.98 C282.00,509.25 283.00,509.53 284.00,509.81 C285.00,510.09 286.00,510.36 287.00,510.64 C288.00,510.92 289.00,511.20 290.00,511.47 C291.00,511.75 292.00,512.03 293.00,512.31 C294.00,512.59 295.00,512.87 296.00,513.14 C297.00,513.42 298.00,513.70 299.00,513.98 C300.00,514.26 301.00,514.54 302.00,514.82 C303.00,515.10 304.00,515.38 305.00,515.65 C306.00,515.93 307.00,516.21 308.00,516.49 C309.00,516.77 310.00,517.05 311.00,517.33 C312.00,517.61 313.00,517.89 314.00,518.17 C315.00,518.45 316.00,518.73 317.00,519.01 C318.00,519.29 319.00,519.57 320.00,519.85 C321.00,520.13 322.00,520.41 323.00,520.69 C324.00,520.97 325.00,521.25 326.00,521.53 C327.00,521.81 328.00,522.09 329.00,522.37 C330.00,522.65 331.00,522.93 332.00,523.21 C333.00,523.49 334.00,523.78 335.00,524.06 C336.00,524.34 337.00,524.62 338.00,524.90 C339.00,525.18 340.00,525.46 341.00,525.74 C342.00,526.02 343.00,526.30 344.00,526.58 C345.00,526.86 346.00,527.14 347.00,527.42 C348.00,527.70 349.00,527.98 350.00,528.26 C351.00,528.54 352.00,528.82 353.00,529.10 C354.00,529.38 355.00,529.66 356.00,529.94 C357.00,530.21 358.00,530.49 359.00,530.77 C360.00,531.05 361.00,531.33 362.00,531.61 C363.00,531.89 364.00,532.17 365.00,532.45 C366.00,532.73 367.00,533.01 368.00,533.28 C369.00,533.56 370.00,533.84 371.00,534.12 C372.00,534.40 373.00,534.67 374.00,534.95 C375.00,535.23 376.00,535.51 377.00,535.79 C378.00,536.06 379.00,536.34 380.00,536.62 C381.00,536.89 382.00,537.17 383.00,537.45 C384.00,537.72 385.00,538.00 386.00,538.28 C387.00,538.55 388.00,538.83 389.00,539.11 C390.00,539.38 391.00,539.66 392.00,539.93 C393.00,540.21 394.00,540.48 395.00,540.76 C396.00,541.03 397.00,541.31 398.00,541.58 C399.00,541.85 400.00,542.13 401.00,542.40 C402.00,542.68 403.00,542.95 404.00,543.22 C405.00,543.50 406.00,543.77 407.00,544.04 C408.00,544.31 409.00,544.59 410.00,544.86 C411.00,545.13 412.00,545.40 413.00,545.67 C414.00,545.94 415.00,546.21 416.00,546.48 C417.00,546.75 418.00,547.02 419.00,547.29 C420.00,547.56 421.00,547.83 422.00,548.10 C423.00,548.37 424.00,548.64 425.00,548.91 C426.00,549.18 427.00,549.44 428.00,549.71 C429.00,549.98 430.00,550.25 431.00,550.51 C432.00,550.78 433.00,551.05 434.00,551.31 C435.00,551.58 436.00,551.84 437.00,552.11 C438.00,552.37 439.00,552.64 440.00,552.90 C441.00,553.17 442.00,553.43 443.00,553.69 C444.00,553.96 445.00,554.22 446.00,554.48 C447.00,554.74 448.12,555.04 449.00,555.27 C449.88,555.49 450.88,555.76 451.25,555.85" fill="none" stroke="#d2803f" stroke-width="1.7" stroke-linejoin="round"/>
<line x1="79.00" y1="387.70" x2="455.10" y2="387.70" stroke="#141414" stroke-width="1.70"/>
<line x1="79.00" y1="665.80" x2="455.10" y2="665.80" stroke="#141414" stroke-width="1.70"/>
<line x1="79.00" y1="386.85" x2="79.00" y2="666.65" stroke="#141414" stroke-width="1.70"/>
<line x1="455.10" y1="386.85" x2="455.10" y2="666.65" stroke="#141414" stroke-width="1.70"/>
<line x1="79.00" y1="637.99" x2="85.50" y2="637.99" stroke="#141414" stroke-width="1.70"/>
<line x1="79.00" y1="610.18" x2="85.50" y2="610.18" stroke="#141414" stroke-width="1.70"/>
<line x1="79.00" y1="582.37" x2="85.50" y2="582.37" stroke="#141414" stroke-width="1.70"/>
<line x1="79.00" y1="554.56" x2="85.50" y2="554.56" stroke="#141414" stroke-width="1.70"/>
<line x1="79.00" y1="526.75" x2="85.50" y2="526.75" stroke="#141414" stroke-width="1.70"/>
<line x1="79.00" y1="498.94" x2="85.50" y2="498.94" stroke="#141414" stroke-width="1.70"/>
<line x1="79.00" y1="471.13" x2="85.50" y2="471.13" stroke="#141414" stroke-width="1.70"/>
<line x1="79.00" y1="443.32" x2="85.50" y2="443.32" stroke="#141414" stroke-width="1.70"/>
<line x1="79.00" y1="415.51" x2="85.50" y2="415.51" stroke="#141414" stroke-width="1.70"/>
<line x1="448.60" y1="610.18" x2="455.10" y2="610.18" stroke="#141414" stroke-width="1.70"/>
<line x1="448.60" y1="554.56" x2="455.10" y2="554.56" stroke="#141414" stroke-width="1.70"/>
<line x1="448.60" y1="498.94" x2="455.10" y2="498.94" stroke="#141414" stroke-width="1.70"/>
<line x1="448.60" y1="443.32" x2="455.10" y2="443.32" stroke="#141414" stroke-width="1.70"/>
<line x1="173.03" y1="659.30" x2="173.03" y2="665.80" stroke="#141414" stroke-width="1.70"/>
<line x1="267.05" y1="659.30" x2="267.05" y2="665.80" stroke="#141414" stroke-width="1.70"/>
<line x1="361.08" y1="659.30" x2="361.08" y2="665.80" stroke="#141414" stroke-width="1.70"/>
<text x="59.50" y="671.40" font-size="18.40" text-anchor="end" fill="#000" font-family="'Liberation Sans', Arial, sans-serif" stroke="#000" stroke-width="0.35">0</text>
<text x="59.50" y="643.59" font-size="18.40" text-anchor="end" fill="#000" font-family="'Liberation Sans', Arial, sans-serif" stroke="#000" stroke-width="0.35">0.1</text>
<text x="59.50" y="615.78" font-size="18.40" text-anchor="end" fill="#000" font-family="'Liberation Sans', Arial, sans-serif" stroke="#000" stroke-width="0.35">0.2</text>
<text x="59.50" y="587.97" font-size="18.40" text-anchor="end" fill="#000" font-family="'Liberation Sans', Arial, sans-serif" stroke="#000" stroke-width="0.35">0.3</text>
<text x="59.50" y="560.16" font-size="18.40" text-anchor="end" fill="#000" font-family="'Liberation Sans', Arial, sans-serif" stroke="#000" stroke-width="0.35">0.4</text>
<text x="59.50" y="532.35" font-size="18.40" text-anchor="end" fill="#000" font-family="'Liberation Sans', Arial, sans-serif" stroke="#000" stroke-width="0.35">0.5</text>
<text x="59.50" y="504.54" font-size="18.40" text-anchor="end" fill="#000" font-family="'Liberation Sans', Arial, sans-serif" stroke="#000" stroke-width="0.35">0.6</text>
<text x="59.50" y="476.73" font-size="18.40" text-anchor="end" fill="#000" font-family="'Liberation Sans', Arial, sans-serif" stroke="#000" stroke-width="0.35">0.7</text>
<text x="59.50" y="448.92" font-size="18.40" text-anchor="end" fill="#000" font-family="'Liberation Sans', Arial, sans-serif" stroke="#000" stroke-width="0.35">0.8</text>
<text x="59.50" y="421.11" font-size="18.40" text-anchor="end" fill="#000" font-family="'Liberation Sans', Arial, sans-serif" stroke="#000" stroke-width="0.35">0.9</text>
<text x="59.50" y="393.30" font-size="18.40" text-anchor="end" fill="#000" font-family="'Liberation Sans', Arial, sans-serif" stroke="#000" stroke-width="0.35">1</text>
<text x="473.80" y="671.40" font-size="18.40" fill="#000" font-family="'Liberation Sans', Arial, sans-serif" stroke="#000" stroke-width="0.35">-0.5</text>
<text x="473.80" y="615.78" font-size="18.40" fill="#000" font-family="'Liberation Sans', Arial, sans-serif" stroke="#000" stroke-width="0.35">0</text>
<text x="473.80" y="560.16" font-size="18.40" fill="#000" font-family="'Liberation Sans', Arial, sans-serif" stroke="#000" stroke-width="0.35">0.5</text>
<text x="473.80" y="504.54" font-size="18.40" fill="#000" font-family="'Liberation Sans', Arial, sans-serif" stroke="#000" stroke-width="0.35">1</text>
<text x="473.80" y="448.92" font-size="18.40" fill="#000" font-family="'Liberation Sans', Arial, sans-serif" stroke="#000" stroke-width="0.35">1.5</text>
<text x="473.80" y="393.30" font-size="18.40" fill="#000" font-family="'Liberation Sans', Arial, sans-serif" stroke="#000" stroke-width="0.35">2</text>
<text x="79.00" y="698.60" font-size="18.40" text-anchor="middle" fill="#000" font-family="'Liberation Sans', Arial, sans-serif" stroke="#000" stroke-width="0.35">710</text>
<text x="173.03" y="698.60" font-size="18.40" text-anchor="middle" fill="#000" font-family="'Liberation Sans', Arial, sans-serif" stroke="#000" stroke-width="0.35">735</text>
<text x="267.05" y="698.60" font-size="18.40" text-anchor="middle" fill="#000" font-family="'Liberation Sans', Arial, sans-serif" stroke="#000" stroke-width="0.35">760</text>
<text x="361.08" y="698.60" font-size="18.40" text-anchor="middle" fill="#000" font-family="'Liberation Sans', Arial, sans-serif" stroke="#000" stroke-width="0.35">785</text>
<text x="455.10" y="698.60" font-size="18.40" text-anchor="middle" fill="#000" font-family="'Liberation Sans', Arial, sans-serif" stroke="#000" stroke-width="0.35">810</text>
<text x="203.90" y="717.60" font-size="19.30" textLength="127.2" lengthAdjust="spacingAndGlyphs" fill="#000" font-family="'Liberation Sans', Arial, sans-serif" id="t_b_freq" stroke="#000" stroke-width="0.35">Frequency (Hz)</text>
<text id="t_b_tr" stroke="#000" stroke-width="0.35" transform="translate(17.11,528.17) rotate(-90)" x="0" y="0" text-anchor="middle" font-size="19.30" textLength="124.7" lengthAdjust="spacingAndGlyphs" fill="#000" font-family="'Liberation Sans', Arial, sans-serif">Transmittance</text>
<text id="t_b_ph" stroke="#000" stroke-width="0.35" transform="translate(517.31,526.79) rotate(-90)" x="0" y="0" text-anchor="middle" font-size="18.60" textLength="50.7" lengthAdjust="spacingAndGlyphs" fill="#000" font-family="'Liberation Sans', Arial, sans-serif">Phase</text>
<line x1="224.50" y1="618.10" x2="245.10" y2="618.10" stroke="#6b8ccb" stroke-width="1.60"/>
<line x1="224.50" y1="648.50" x2="245.10" y2="648.50" stroke="#d2803f" stroke-width="1.60"/>
<text x="246.28" y="623.80" font-size="19.30" textLength="121.7" lengthAdjust="spacingAndGlyphs" fill="#000" font-family="'Liberation Sans', Arial, sans-serif" id="t_b_lt" stroke="#000" stroke-width="0.35">Transmittance</text>
<text x="245.18" y="654.60" font-size="19.30" textLength="51.8" lengthAdjust="spacingAndGlyphs" fill="#000" font-family="'Liberation Sans', Arial, sans-serif" id="t_b_lp" stroke="#000" stroke-width="0.35">Phase</text>
<text x="260.60" y="759.40" font-size="27.00" text-anchor="middle" fill="#000" font-family="'Liberation Serif', 'Times New Roman', serif" id="t_b_cap">(b)</text>
<rect x="91.60" y="954.30" width="48.20" height="86.00" fill="url(#cyl)"/>
<line x1="92.00" y1="954.30" x2="92.00" y2="1040.30" stroke="#9a9a9a" stroke-width="0.80"/>
<line x1="91.60" y1="954.60" x2="139.80" y2="954.60" stroke="#8c8c8c" stroke-width="0.70"/>
<rect x="172.00" y="976.00" width="43.40" height="42.50" fill="url(#cyl)"/>
<line x1="172.00" y1="976.30" x2="215.40" y2="976.30" stroke="#8c8c8c" stroke-width="0.70"/>
<line x1="172.00" y1="996.50" x2="215.40" y2="996.50" stroke="#828282" stroke-width="1.00"/>
<line x1="91.60" y1="996.50" x2="139.80" y2="996.50" stroke="#828282" stroke-width="1.00"/>
<rect x="176.00" y="982.90" width="22.10" height="13.20" fill="url(#pin2)" stroke="#8a8a8a" stroke-width="0.7"/>
<ellipse cx="170.40" cy="997.30" rx="5.70" ry="26.50" fill="url(#neck)" stroke="#878787" stroke-width="0.70"/>
<rect x="149.60" y="970.80" width="20.80" height="53.00" fill="url(#neck)"/>
<line x1="149.60" y1="996.50" x2="176.10" y2="996.50" stroke="#858585" stroke-width="0.80"/>
<ellipse cx="139.80" cy="997.30" rx="10.60" ry="43.00" fill="url(#face)" stroke="#878787" stroke-width="0.90"/>
<ellipse cx="141.25" cy="997.10" rx="6.75" ry="26.90" fill="#a3a3a3" stroke="#878787" stroke-width="0.90"/>
<rect x="121.50" y="997.60" width="21.20" height="20.20" fill="url(#pin)"/>
<line x1="121.50" y1="997.90" x2="142.70" y2="997.90" stroke="#8a8a8a" stroke-width="0.70"/>
<line x1="121.50" y1="1017.50" x2="142.70" y2="1017.50" stroke="#8a8a8a" stroke-width="0.70"/>
<ellipse cx="121.50" cy="1007.70" rx="2.50" ry="10.10" fill="#b0b0b0" stroke="#858585" stroke-width="0.70"/>
<path d="M81.25,871.29 C81.75,871.05 83.25,870.34 84.25,869.85 C85.25,869.36 86.25,868.86 87.25,868.36 C88.25,867.86 89.25,867.34 90.25,866.83 C91.25,866.31 92.25,865.78 93.25,865.25 C94.25,864.71 95.25,864.17 96.25,863.62 C97.25,863.08 98.25,862.52 99.25,861.96 C100.25,861.41 101.25,860.84 102.25,860.27 C103.25,859.70 104.25,859.12 105.25,858.54 C106.25,857.96 107.25,857.37 108.25,856.78 C109.25,856.19 110.25,855.59 111.25,854.99 C112.25,854.39 113.25,853.79 114.25,853.18 C115.25,852.57 116.25,851.96 117.25,851.34 C118.25,850.73 119.25,850.11 120.25,849.49 C121.25,848.87 122.25,848.25 123.25,847.62 C124.25,846.99 125.25,846.37 126.25,845.74 C127.25,845.11 128.25,844.47 129.25,843.84 C130.25,843.21 131.25,842.57 132.25,841.94 C133.25,841.30 134.25,840.66 135.25,840.03 C136.25,839.39 137.25,838.75 138.25,838.11 C139.25,837.47 140.25,836.84 141.25,836.20 C142.25,835.56 143.25,834.92 144.25,834.29 C145.25,833.65 146.25,833.02 147.25,832.38 C148.25,831.75 149.25,831.12 150.25,830.49 C151.25,829.86 152.25,829.23 153.25,828.60 C154.25,827.97 155.25,827.35 156.25,826.73 C157.25,826.11 158.25,825.49 159.25,824.87 C160.25,824.26 161.25,823.64 162.25,823.03 C163.25,822.43 164.25,821.82 165.25,821.22 C166.25,820.62 167.25,820.02 168.25,819.43 C169.25,818.84 170.25,818.25 171.25,817.67 C172.25,817.08 173.25,816.50 174.25,815.93 C175.25,815.36 176.25,814.79 177.25,814.23 C178.25,813.67 179.25,813.12 180.25,812.57 C181.25,812.02 182.25,811.48 183.25,810.94 C184.25,810.40 185.25,809.87 186.25,809.35 C187.25,808.82 188.25,808.30 189.25,807.79 C190.25,807.27 191.25,806.77 192.25,806.27 C193.25,805.76 194.25,805.27 195.25,804.78 C196.25,804.29 197.25,803.81 198.25,803.33 C199.25,802.85 200.25,802.38 201.25,801.91 C202.25,801.45 203.25,800.99 204.25,800.54 C205.25,800.08 206.25,799.63 207.25,799.19 C208.25,798.75 209.25,798.31 210.25,797.88 C211.25,797.45 212.25,797.03 213.25,796.61 C214.25,796.19 215.25,795.78 216.25,795.37 C217.25,794.97 218.25,794.56 219.25,794.17 C220.25,793.78 221.25,793.39 222.25,793.00 C223.25,792.62 224.25,792.24 225.25,791.87 C226.25,791.50 227.25,791.13 228.25,790.77 C229.25,790.41 230.25,790.06 231.25,789.71 C232.25,789.36 233.25,789.02 234.25,788.69 C235.25,788.35 236.25,788.02 237.25,787.69 C238.25,787.37 239.25,787.05 240.25,786.74 C241.25,786.43 242.25,786.12 243.25,785.82 C244.25,785.52 245.25,785.22 246.25,784.93 C247.25,784.64 248.25,784.36 249.25,784.08 C250.25,783.80 251.25,783.53 252.25,783.26 C253.25,783.00 254.25,782.73 255.25,782.48 C256.25,782.22 257.25,781.98 258.25,781.73 C259.25,781.49 260.25,781.25 261.25,781.02 C262.25,780.79 263.25,780.56 264.25,780.34 C265.25,780.12 266.25,779.91 267.25,779.70 C268.25,779.50 269.25,779.30 270.25,779.11 C271.25,778.92 272.25,778.74 273.25,778.57 C274.25,778.40 275.25,778.24 276.25,778.09 C277.25,777.94 278.25,777.80 279.25,777.67 C280.25,777.54 281.25,777.43 282.25,777.33 C283.25,777.23 284.25,777.14 285.25,777.06 C286.25,776.99 287.25,776.93 288.25,776.89 C289.25,776.85 290.25,776.82 291.25,776.81 C292.25,776.79 293.25,776.80 294.25,776.82 C295.25,776.85 296.25,776.89 297.25,776.95 C298.25,777.01 299.25,777.09 300.25,777.19 C301.25,777.29 302.25,777.41 303.25,777.55 C304.25,777.69 305.25,777.85 306.25,778.04 C307.25,778.22 308.25,778.43 309.25,778.66 C310.25,778.89 311.25,779.15 312.25,779.42 C313.25,779.70 314.25,780.00 315.25,780.32 C316.25,780.63 317.25,780.97 318.25,781.32 C319.25,781.67 320.25,782.04 321.25,782.42 C322.25,782.80 323.25,783.20 324.25,783.60 C325.25,784.00 326.25,784.42 327.25,784.84 C328.25,785.26 329.25,785.69 330.25,786.12 C331.25,786.55 332.25,786.98 333.25,787.42 C334.25,787.86 335.25,788.29 336.25,788.74 C337.25,789.18 338.25,789.62 339.25,790.08 C340.25,790.53 341.25,790.98 342.25,791.45 C343.25,791.91 344.25,792.38 345.25,792.86 C346.25,793.34 347.25,793.83 348.25,794.32 C349.25,794.82 350.25,795.33 351.25,795.85 C352.25,796.37 353.25,796.89 354.25,797.44 C355.25,797.98 356.25,798.54 357.25,799.11 C358.25,799.68 359.25,800.27 360.25,800.87 C361.25,801.47 362.25,802.09 363.25,802.72 C364.25,803.35 365.25,804.00 366.25,804.67 C367.25,805.33 368.25,806.02 369.25,806.72 C370.25,807.42 371.25,808.14 372.25,808.88 C373.25,809.62 374.25,810.37 375.25,811.15 C376.25,811.93 377.25,812.72 378.25,813.54 C379.25,814.35 380.25,815.19 381.25,816.05 C382.25,816.90 383.25,817.78 384.25,818.68 C385.25,819.57 386.25,820.49 387.25,821.41 C388.25,822.34 389.25,823.28 390.25,824.23 C391.25,825.18 392.25,826.14 393.25,827.11 C394.25,828.08 395.25,829.05 396.25,830.03 C397.25,831.01 398.25,831.99 399.25,832.98 C400.25,833.96 401.25,834.94 402.25,835.92 C403.25,836.90 404.25,837.88 405.25,838.85 C406.25,839.81 407.25,840.78 408.25,841.73 C409.25,842.68 410.25,843.63 411.25,844.56 C412.25,845.49 413.25,846.42 414.25,847.32 C415.25,848.23 416.25,849.13 417.25,850.01 C418.25,850.89 419.25,851.76 420.25,852.61 C421.25,853.46 422.25,854.30 423.25,855.12 C424.25,855.93 425.25,856.73 426.25,857.51 C427.25,858.29 428.25,859.05 429.25,859.79 C430.25,860.53 431.25,861.25 432.25,861.95 C433.25,862.64 434.25,863.31 435.25,863.96 C436.25,864.61 437.25,865.23 438.25,865.83 C439.25,866.42 440.25,866.99 441.25,867.53 C442.25,868.08 443.43,868.67 444.25,869.07 C445.07,869.48 445.88,869.83 446.20,869.98" fill="none" stroke="#6b8ccb" stroke-width="1.7" stroke-linejoin="round"/>
<path d="M81.25,832.52 C81.75,832.61 83.25,832.87 84.25,833.05 C85.25,833.23 86.25,833.41 87.25,833.60 C88.25,833.79 89.25,833.97 90.25,834.17 C91.25,834.36 92.25,834.56 93.25,834.75 C94.25,834.95 95.25,835.15 96.25,835.36 C97.25,835.56 98.25,835.77 99.25,835.98 C100.25,836.19 101.25,836.41 102.25,836.63 C103.25,836.84 104.25,837.06 105.25,837.29 C106.25,837.51 107.25,837.73 108.25,837.96 C109.25,838.19 110.25,838.42 111.25,838.66 C112.25,838.89 113.25,839.13 114.25,839.37 C115.25,839.61 116.25,839.85 117.25,840.10 C118.25,840.35 119.25,840.59 120.25,840.85 C121.25,841.10 122.25,841.35 123.25,841.61 C124.25,841.86 125.25,842.12 126.25,842.39 C127.25,842.65 128.25,842.91 129.25,843.18 C130.25,843.45 131.25,843.72 132.25,843.99 C133.25,844.26 134.25,844.54 135.25,844.82 C136.25,845.09 137.25,845.37 138.25,845.66 C139.25,845.94 140.25,846.22 141.25,846.51 C142.25,846.80 143.25,847.09 144.25,847.38 C145.25,847.68 146.25,847.97 147.25,848.27 C148.25,848.57 149.25,848.87 150.25,849.17 C151.25,849.47 152.25,849.77 153.25,850.08 C154.25,850.39 155.25,850.70 156.25,851.01 C157.25,851.32 158.25,851.63 159.25,851.95 C160.25,852.26 161.25,852.58 162.25,852.90 C163.25,853.22 164.25,853.54 165.25,853.87 C166.25,854.19 167.25,854.52 168.25,854.85 C169.25,855.18 170.25,855.51 171.25,855.84 C172.25,856.17 173.25,856.51 174.25,856.85 C175.25,857.18 176.25,857.52 177.25,857.86 C178.25,858.20 179.25,858.55 180.25,858.89 C181.25,859.24 182.25,859.58 183.25,859.93 C184.25,860.28 185.25,860.63 186.25,860.99 C187.25,861.34 188.25,861.69 189.25,862.05 C190.25,862.40 191.25,862.76 192.25,863.12 C193.25,863.48 194.25,863.84 195.25,864.21 C196.25,864.57 197.25,864.94 198.25,865.30 C199.25,865.67 200.25,866.04 201.25,866.41 C202.25,866.78 203.25,867.15 204.25,867.52 C205.25,867.90 206.25,868.27 207.25,868.65 C208.25,869.03 209.25,869.40 210.25,869.78 C211.25,870.16 212.25,870.54 213.25,870.93 C214.25,871.31 215.25,871.69 216.25,872.08 C217.25,872.47 218.25,872.85 219.25,873.24 C220.25,873.63 221.25,874.02 222.25,874.41 C223.25,874.80 224.25,875.20 225.25,875.59 C226.25,875.98 227.25,876.38 228.25,876.78 C229.25,877.17 230.25,877.57 231.25,877.97 C232.25,878.37 233.25,878.77 234.25,879.17 C235.25,879.57 236.25,879.98 237.25,880.38 C238.25,880.79 239.25,881.19 240.25,881.60 C241.25,882.01 242.25,882.41 243.25,882.82 C244.25,883.23 245.25,883.64 246.25,884.05 C247.25,884.46 248.25,884.87 249.25,885.29 C250.25,885.70 251.25,886.12 252.25,886.53 C253.25,886.95 254.25,887.36 255.25,887.78 C256.25,888.20 257.25,888.61 258.25,889.03 C259.25,889.45 260.25,889.87 261.25,890.29 C262.25,890.71 263.25,891.13 264.25,891.56 C265.25,891.98 266.25,892.40 267.25,892.83 C268.25,893.25 269.25,893.67 270.25,894.10 C271.25,894.53 272.25,894.95 273.25,895.38 C274.25,895.81 275.25,896.23 276.25,896.66 C277.25,897.09 278.25,897.52 279.25,897.95 C280.25,898.38 281.25,898.81 282.25,899.24 C283.25,899.67 284.25,900.10 285.25,900.53 C286.25,900.97 287.25,901.40 288.25,901.83 C289.25,902.26 290.25,902.70 291.25,903.13 C292.25,903.57 293.25,904.00 294.25,904.43 C295.25,904.87 296.25,905.31 297.25,905.74 C298.25,906.18 299.25,906.61 300.25,907.05 C301.25,907.49 302.25,907.92 303.25,908.36 C304.25,908.80 305.25,909.23 306.25,909.67 C307.25,910.11 308.25,910.55 309.25,910.98 C310.25,911.42 311.25,911.86 312.25,912.30 C313.25,912.74 314.25,913.18 315.25,913.62 C316.25,914.05 317.25,914.49 318.25,914.93 C319.25,915.37 320.25,915.81 321.25,916.25 C322.25,916.69 323.25,917.13 324.25,917.57 C325.25,918.01 326.25,918.45 327.25,918.89 C328.25,919.33 329.25,919.77 330.25,920.20 C331.25,920.64 332.25,921.08 333.25,921.52 C334.25,921.96 335.25,922.40 336.25,922.84 C337.25,923.28 338.25,923.72 339.25,924.16 C340.25,924.59 341.25,925.03 342.25,925.47 C343.25,925.91 344.25,926.35 345.25,926.79 C346.25,927.22 347.25,927.66 348.25,928.10 C349.25,928.54 350.25,928.97 351.25,929.41 C352.25,929.85 353.25,930.28 354.25,930.72 C355.25,931.15 356.25,931.59 357.25,932.02 C358.25,932.46 359.25,932.89 360.25,933.33 C361.25,933.76 362.25,934.20 363.25,934.63 C364.25,935.06 365.25,935.50 366.25,935.93 C367.25,936.36 368.25,936.79 369.25,937.22 C370.25,937.65 371.25,938.09 372.25,938.52 C373.25,938.95 374.25,939.37 375.25,939.80 C376.25,940.23 377.25,940.66 378.25,941.09 C379.25,941.52 380.25,941.94 381.25,942.37 C382.25,942.79 383.25,943.22 384.25,943.64 C385.25,944.07 386.25,944.49 387.25,944.91 C388.25,945.34 389.25,945.76 390.25,946.18 C391.25,946.60 392.25,947.02 393.25,947.44 C394.25,947.86 395.25,948.28 396.25,948.70 C397.25,949.12 398.25,949.53 399.25,949.95 C400.25,950.36 401.25,950.78 402.25,951.19 C403.25,951.61 404.25,952.02 405.25,952.43 C406.25,952.84 407.25,953.25 408.25,953.66 C409.25,954.07 410.25,954.48 411.25,954.89 C412.25,955.30 413.25,955.70 414.25,956.11 C415.25,956.51 416.25,956.92 417.25,957.32 C418.25,957.72 419.25,958.12 420.25,958.52 C421.25,958.92 422.25,959.32 423.25,959.72 C424.25,960.12 425.25,960.51 426.25,960.91 C427.25,961.30 428.25,961.70 429.25,962.09 C430.25,962.48 431.25,962.87 432.25,963.26 C433.25,963.65 434.25,964.04 435.25,964.43 C436.25,964.81 437.25,965.20 438.25,965.58 C439.25,965.97 440.25,966.35 441.25,966.73 C442.25,967.11 443.42,967.55 444.25,967.87 C445.08,968.18 445.92,968.50 446.25,968.62" fill="none" stroke="#d2803f" stroke-width="1.7" stroke-linejoin="round"/>
<line x1="80.40" y1="776.70" x2="449.60" y2="776.70" stroke="#141414" stroke-width="1.70"/>
<line x1="80.40" y1="1050.75" x2="449.60" y2="1050.75" stroke="#141414" stroke-width="1.70"/>
<line x1="80.40" y1="775.85" x2="80.40" y2="1051.60" stroke="#141414" stroke-width="1.70"/>
<line x1="449.60" y1="775.85" x2="449.60" y2="1051.60" stroke="#141414" stroke-width="1.70"/>
<line x1="80.40" y1="1023.35" x2="86.90" y2="1023.35" stroke="#141414" stroke-width="1.70"/>
<line x1="80.40" y1="995.94" x2="86.90" y2="995.94" stroke="#141414" stroke-width="1.70"/>
<line x1="80.40" y1="968.53" x2="86.90" y2="968.53" stroke="#141414" stroke-width="1.70"/>
<line x1="80.40" y1="941.13" x2="86.90" y2="941.13" stroke="#141414" stroke-width="1.70"/>
<line x1="80.40" y1="913.73" x2="86.90" y2="913.73" stroke="#141414" stroke-width="1.70"/>
<line x1="80.40" y1="886.32" x2="86.90" y2="886.32" stroke="#141414" stroke-width="1.70"/>
<line x1="80.40" y1="858.91" x2="86.90" y2="858.91" stroke="#141414" stroke-width="1.70"/>
<line x1="80.40" y1="831.51" x2="86.90" y2="831.51" stroke="#141414" stroke-width="1.70"/>
<line x1="80.40" y1="804.11" x2="86.90" y2="804.11" stroke="#141414" stroke-width="1.70"/>
<line x1="443.10" y1="995.94" x2="449.60" y2="995.94" stroke="#141414" stroke-width="1.70"/>
<line x1="443.10" y1="941.13" x2="449.60" y2="941.13" stroke="#141414" stroke-width="1.70"/>
<line x1="443.10" y1="886.32" x2="449.60" y2="886.32" stroke="#141414" stroke-width="1.70"/>
<line x1="443.10" y1="831.51" x2="449.60" y2="831.51" stroke="#141414" stroke-width="1.70"/>
<line x1="172.70" y1="1044.25" x2="172.70" y2="1050.75" stroke="#141414" stroke-width="1.70"/>
<line x1="265.00" y1="1044.25" x2="265.00" y2="1050.75" stroke="#141414" stroke-width="1.70"/>
<line x1="357.30" y1="1044.25" x2="357.30" y2="1050.75" stroke="#141414" stroke-width="1.70"/>
<text x="60.20" y="1056.35" font-size="18.40" text-anchor="end" fill="#000" font-family="'Liberation Sans', Arial, sans-serif" stroke="#000" stroke-width="0.35">0</text>
<text x="60.20" y="1028.94" font-size="18.40" text-anchor="end" fill="#000" font-family="'Liberation Sans', Arial, sans-serif" stroke="#000" stroke-width="0.35">0.1</text>
<text x="60.20" y="1001.54" font-size="18.40" text-anchor="end" fill="#000" font-family="'Liberation Sans', Arial, sans-serif" stroke="#000" stroke-width="0.35">0.2</text>
<text x="60.20" y="974.13" font-size="18.40" text-anchor="end" fill="#000" font-family="'Liberation Sans', Arial, sans-serif" stroke="#000" stroke-width="0.35">0.3</text>
<text x="60.20" y="946.73" font-size="18.40" text-anchor="end" fill="#000" font-family="'Liberation Sans', Arial, sans-serif" stroke="#000" stroke-width="0.35">0.4</text>
<text x="60.20" y="919.33" font-size="18.40" text-anchor="end" fill="#000" font-family="'Liberation Sans', Arial, sans-serif" stroke="#000" stroke-width="0.35">0.5</text>
<text x="60.20" y="891.92" font-size="18.40" text-anchor="end" fill="#000" font-family="'Liberation Sans', Arial, sans-serif" stroke="#000" stroke-width="0.35">0.6</text>
<text x="60.20" y="864.51" font-size="18.40" text-anchor="end" fill="#000" font-family="'Liberation Sans', Arial, sans-serif" stroke="#000" stroke-width="0.35">0.7</text>
<text x="60.20" y="837.11" font-size="18.40" text-anchor="end" fill="#000" font-family="'Liberation Sans', Arial, sans-serif" stroke="#000" stroke-width="0.35">0.8</text>
<text x="60.20" y="809.71" font-size="18.40" text-anchor="end" fill="#000" font-family="'Liberation Sans', Arial, sans-serif" stroke="#000" stroke-width="0.35">0.9</text>
<text x="60.20" y="782.30" font-size="18.40" text-anchor="end" fill="#000" font-family="'Liberation Sans', Arial, sans-serif" stroke="#000" stroke-width="0.35">1</text>
<text x="468.80" y="1056.35" font-size="18.40" fill="#000" font-family="'Liberation Sans', Arial, sans-serif" stroke="#000" stroke-width="0.35">-0.5</text>
<text x="468.80" y="1001.54" font-size="18.40" fill="#000" font-family="'Liberation Sans', Arial, sans-serif" stroke="#000" stroke-width="0.35">0</text>
<text x="468.80" y="946.73" font-size="18.40" fill="#000" font-family="'Liberation Sans', Arial, sans-serif" stroke="#000" stroke-width="0.35">0.5</text>
<text x="468.80" y="891.92" font-size="18.40" fill="#000" font-family="'Liberation Sans', Arial, sans-serif" stroke="#000" stroke-width="0.35">1</text>
<text x="468.80" y="837.11" font-size="18.40" fill="#000" font-family="'Liberation Sans', Arial, sans-serif" stroke="#000" stroke-width="0.35">1.5</text>
<text x="468.80" y="782.30" font-size="18.40" fill="#000" font-family="'Liberation Sans', Arial, sans-serif" stroke="#000" stroke-width="0.35">2</text>
<text x="80.40" y="1083.60" font-size="18.40" text-anchor="middle" fill="#000" font-family="'Liberation Sans', Arial, sans-serif" stroke="#000" stroke-width="0.35">710</text>
<text x="172.70" y="1083.60" font-size="18.40" text-anchor="middle" fill="#000" font-family="'Liberation Sans', Arial, sans-serif" stroke="#000" stroke-width="0.35">735</text>
<text x="265.00" y="1083.60" font-size="18.40" text-anchor="middle" fill="#000" font-family="'Liberation Sans', Arial, sans-serif" stroke="#000" stroke-width="0.35">760</text>
<text x="357.30" y="1083.60" font-size="18.40" text-anchor="middle" fill="#000" font-family="'Liberation Sans', Arial, sans-serif" stroke="#000" stroke-width="0.35">785</text>
<text x="449.60" y="1083.60" font-size="18.40" text-anchor="middle" fill="#000" font-family="'Liberation Sans', Arial, sans-serif" stroke="#000" stroke-width="0.35">810</text>
<text x="193.48" y="1103.00" font-size="19.30" textLength="128.2" lengthAdjust="spacingAndGlyphs" fill="#000" font-family="'Liberation Sans', Arial, sans-serif" id="t_c_freq" stroke="#000" stroke-width="0.35">Frequency (Hz)</text>
<text id="t_c_tr" stroke="#000" stroke-width="0.35" transform="translate(17.10,907.14) rotate(-90)" x="0" y="0" text-anchor="middle" font-size="19.30" textLength="122.0" lengthAdjust="spacingAndGlyphs" fill="#000" font-family="'Liberation Sans', Arial, sans-serif">Transmittance</text>
<text id="t_c_ph" stroke="#000" stroke-width="0.35" transform="translate(517.75,913.34) rotate(-90)" x="0" y="0" text-anchor="middle" font-size="18.60" textLength="51.7" lengthAdjust="spacingAndGlyphs" fill="#000" font-family="'Liberation Sans', Arial, sans-serif">Phase</text>
<line x1="219.80" y1="1000.90" x2="241.00" y2="1000.90" stroke="#6b8ccb" stroke-width="1.60"/>
<line x1="219.80" y1="1033.20" x2="241.00" y2="1033.20" stroke="#d2803f" stroke-width="1.60"/>
<text x="242.40" y="1007.20" font-size="19.30" textLength="120.5" lengthAdjust="spacingAndGlyphs" fill="#000" font-family="'Liberation Sans', Arial, sans-serif" id="t_c_lt" stroke="#000" stroke-width="0.35">Transmittance</text>
<text x="241.44" y="1038.00" font-size="19.30" textLength="50.8" lengthAdjust="spacingAndGlyphs" fill="#000" font-family="'Liberation Sans', Arial, sans-serif" id="t_c_lp" stroke="#000" stroke-width="0.35">Phase</text>
<text x="260.20" y="1138.80" font-size="27.00" text-anchor="middle" fill="#000" font-family="'Liberation Serif', 'Times New Roman', serif" id="t_c_cap">(c)</text>
</svg>
</body></html>
